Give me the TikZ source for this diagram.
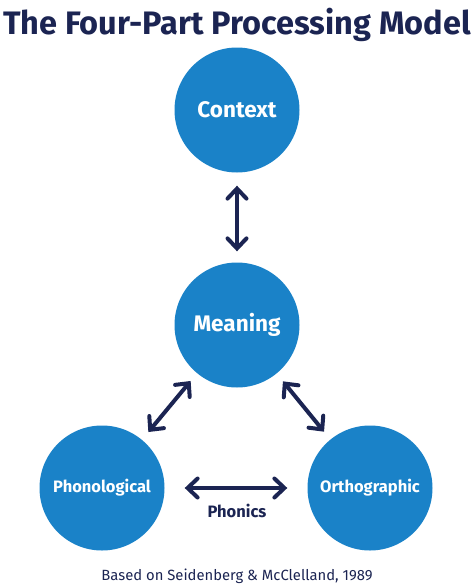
\documentclass[tikz,border=0pt]{standalone}
\usepackage{fontspec}
\setmainfont{Fira Sans}
\usetikzlibrary{arrows.meta}
\definecolor{navy}{HTML}{1B2452}
\definecolor{ballblue}{HTML}{1A82C8}
\tikzset{
  ball/.style={circle,fill=ballblue,minimum size=125pt,inner sep=0pt,text=white,font=\bfseries\fontsize{22.5}{26}\selectfont},
  small/.style={font=\bfseries\fontsize{16.5}{20}\selectfont},
  link/.style={navy,line width=4pt,line cap=round,{Straight Barb[length=10pt,width=19pt,line cap=round]}-{Straight Barb[length=10pt,width=19pt,line cap=round]}}
}
\begin{document}
\begin{tikzpicture}[x=1pt,y=-1pt]
\useasboundingbox(0,0)rectangle(474,587);
%title
\node[navy,font=\bfseries\fontsize{32.5}{38}\selectfont](title)at(237,25){The Four-Part Processing Model};
%circles
\node[ball](context)at(237,110){Context};
\node[ball](meaning)at(237,325){Meaning};
\node[ball,small](phono)at(102,488){Phonological};
\node[ball,small](ortho)at(370,488){Orthographic};
%arrows
\draw[link,shorten <=13pt,shorten >=11pt](context)--(meaning);
\draw[link,shorten <=10pt,shorten >=10pt](meaning)--(phono);
\draw[link,shorten <=10pt,shorten >=10pt](meaning)--(ortho);
\draw[link,shorten <=20pt,shorten >=20pt](phono)--(ortho);
\node[navy,font=\bfseries\fontsize{16.5}{20}\selectfont](phonics)at(237,511){Phonics};
%source
\node[navy,font=\fontsize{14.8}{18}\selectfont](source)at(237,576){Based on Seidenberg \& McClelland, 1989};
\end{tikzpicture}
\end{document}
